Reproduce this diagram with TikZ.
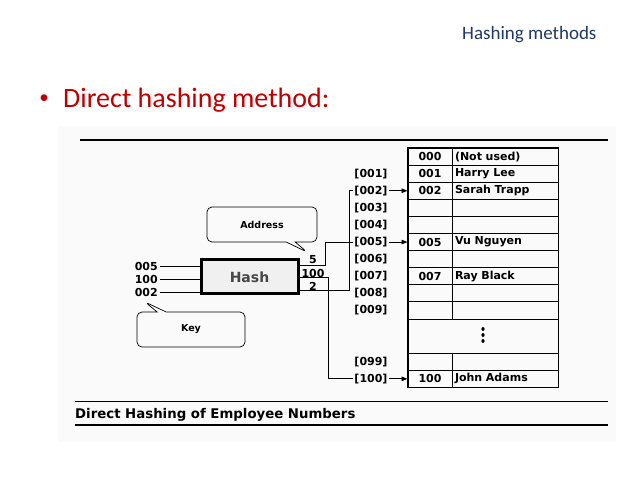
\documentclass[tikz,border=0pt]{standalone}
\usepackage{fontspec}
\setmainfont{Carlito}
\newfontfamily\scanfont{DejaVu Sans}
\usetikzlibrary{arrows.meta,shapes.callouts}
\definecolor{titleblue}{HTML}{1F3864}
\definecolor{bulletred}{HTML}{C00000}
\tikzset{
  scan/.style={font=\scanfont\bfseries\fontsize{11}{13}\selectfont},
  cell/.style={draw,line width=0.9pt,minimum height=17.1pt,inner sep=0pt,scan},
  idx/.style={scan,inner sep=1pt},
  wire/.style={line width=0.8pt},
  bubble/.style={rectangle callout,draw,line width=0.7pt,rounded corners=5pt,
    minimum width=110pt,minimum height=35pt,callout pointer width=9pt,
    font=\scanfont\bfseries\fontsize{9.5}{11}\selectfont}
}
\begin{document}
\begin{tikzpicture}[x=1pt,y=-1pt]
\useasboundingbox (0,0) rectangle (638,478);
% slide text
\node[anchor=base west,inner sep=0pt,text=titleblue,font=\fontsize{19}{22}\selectfont] (title) at (462,40) {Hashing methods};
\node[anchor=base,inner sep=0pt,text=bulletred,font=\fontsize{19}{22}\selectfont] (bul) at (44,104) {•};
\node[anchor=base west,inner sep=0pt,text=bulletred,font=\fontsize{28}{32}\selectfont] (head) at (63,108) {Direct hashing method:};
% scanned figure
\fill[black!2] (58,126) rectangle (616,442);
\draw[line width=1.5pt] (80,140) -- (608,140);
\draw[line width=0.8pt] (75,401) -- (608,401);
\draw[line width=1.5pt] (75,425) -- (608,425);
\node[anchor=base west,inner sep=0pt,font=\scanfont\bfseries\fontsize{13.3}{15}\selectfont] (caption) at (75,419) {Direct Hashing of Employee Numbers};
% table
\foreach \r/\k/\n in {0/000/{(Not used)},1/001/Harry Lee,2/002/Sarah Trapp,3//,4//,5/005/Vu Nguyen,6//,7/007/Ray Black,8//,9//,12//,13/100/John Adams}{
  \node[cell,minimum width=44pt] (key\r) at (430,{148+17.1*(\r+0.5)}) {\k};
  \node[cell,text width=100pt,align=left,inner xsep=3pt] (name\r) at (505,{148+17.1*(\r+0.5)}) {\n};
}
\node[cell,minimum width=150pt,minimum height=34.2pt] (gap) at (483,336.3) {};
\foreach \d in {329,335,341} \fill (483,\d) ellipse (1.6pt and 2pt);
\draw[line width=1.2pt] (key0.north west) rectangle (name13.south east);
% addresses
\foreach \r/\t in {1/001,2/002,3/003,4/004,5/005,6/006,7/007,8/008,9/009,12/099,13/100}
  \node[idx] (i\t) at (371,{148+17.1*(\r+0.5)}) {[\t]};
\draw[wire,-{Triangle[length=6pt,width=4.5pt]}] (i002.east) -- (key2.west);
\draw[wire,-{Triangle[length=6pt,width=4.5pt]}] (i005.east) -- (key5.west);
\draw[wire,-{Triangle[length=6pt,width=4.5pt]}] (i100.east) -- (key13.west);
% hash function
\node[draw,line width=3pt,fill=gray!12,minimum width=97pt,minimum height=34pt,text=gray!55!black,
  font=\scanfont\bfseries\fontsize{14}{16}\selectfont] (hash) at (249.5,277) {Hash};
\node[scan,anchor=east,inner xsep=2pt,inner ysep=0pt] (k005) at (160,266) {005};
\node[scan,anchor=east,inner xsep=2pt,inner ysep=0pt] (k100) at (160,279) {100};
\node[scan,anchor=east,inner xsep=2pt,inner ysep=0pt] (k002) at (160,292) {002};
\foreach \k in {k005,k100,k002}
  \draw[wire] (\k.east) -- (\k.east -| hash.west);
\node[scan,inner sep=0pt] (a5) at (313,260) {5};
\node[scan,inner sep=0pt] (a100) at (313,273) {100};
\node[scan,inner sep=0pt] (a2) at (313,286) {2};
\coordinate (o5) at (hash.east |- 0,265);
\coordinate (o100) at (hash.east |- 0,277);
\coordinate (o2) at (hash.east |- 0,290);
\draw[wire] (o5) -- ++(25.5,0) |- (i005.west);
\draw[wire] (o100) -- ++(28.5,0) |- (i100.west);
\draw[wire] (o2) -- ++(49.5,0) |- (i002.west);
% callouts
\node[bubble,callout absolute pointer={(307,252)}] (address) at (262,224.5) {Address};
\node[bubble,minimum width=108pt,callout absolute pointer={(145,302)}] (keyc) at (191,329.5) {Key};
\end{tikzpicture}
\end{document}
